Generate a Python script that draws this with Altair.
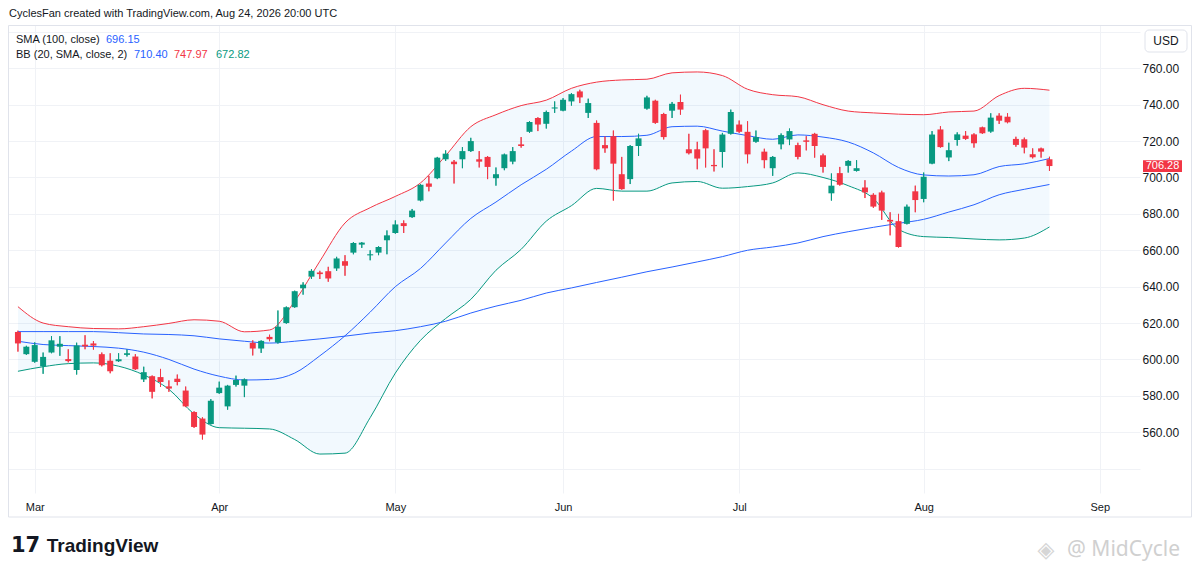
import altair as alt
import pandas as pd

# ---------------- data ----------------
opens = [615.1, 602.9, 598.7, 596.2, 603.8, 607.0, 600.2, 594.2, 608.1, 608.8,
         602.9, 599.3, 599.0, 602.5, 601.6, 589.0, 590.8, 590.3, 585.2, 589.4,
         582.9, 571.1, 567.5, 564.5, 581.5, 574.2, 586.0, 585.6, 609.1, 606.0,
         612.4, 609.3, 620.0, 628.7, 639.1, 645.5, 647.8, 648.5, 650.0, 654.0,
         658.7, 663.1, 657.3, 658.7, 665.5, 669.5, 674.9, 678.2, 687.3, 696.7,
         699.6, 710.0, 708.7, 710.0, 714.5, 710.0, 711.3, 699.6, 705.1, 708.7,
         718.2, 725.1, 732.7, 729.5, 738.2, 736.7, 741.8, 747.3, 735.5, 730.0,
         717.8, 722.7, 701.8, 699.1, 717.3, 737.8, 742.2, 734.9, 736.7, 741.5,
         715.5, 715.5, 726.0, 706.9, 714.0, 724.0, 729.1, 725.1, 719.6, 714.2,
         705.1, 718.2, 720.9, 717.8, 720.4, 724.0, 712.2, 691.3, 702.4, 706.4,
         703.6, 694.5, 690.5, 691.8, 676.7, 676.0, 674.5, 692.4, 688.2, 707.6,
         726.4, 711.0, 720.6, 723.0, 723.7, 727.6, 725.2, 734.0, 733.4, 721.2,
         721.0, 712.7, 716.0, 710.0]
highs = [615.8, 607.5, 609.4, 603.8, 612.8, 612.8, 605.6, 609.2, 613.3, 610.1,
         603.8, 603.4, 603.4, 605.6, 602.9, 596.0, 591.2, 594.8, 588.5, 591.7,
         585.1, 571.5, 568.2, 578.2, 587.8, 586.0, 591.1, 589.5, 610.5, 610.5,
         613.6, 626.9, 629.1, 637.8, 642.4, 649.6, 648.7, 650.9, 656.4, 657.3,
         664.5, 664.5, 660.0, 662.2, 670.9, 676.4, 676.4, 682.7, 696.4, 700.9,
         711.3, 714.9, 709.6, 716.7, 721.8, 714.5, 711.8, 705.5, 713.1, 716.7,
         722.2, 730.9, 733.1, 736.7, 741.8, 743.6, 746.4, 748.2, 743.3, 731.3,
         722.7, 725.8, 711.3, 717.8, 724.0, 744.9, 742.7, 735.5, 741.5, 745.5,
         724.0, 719.6, 726.7, 715.5, 724.5, 737.3, 731.3, 730.9, 725.8, 715.8,
         711.8, 724.2, 726.9, 719.1, 722.7, 724.5, 713.1, 702.2, 705.8, 709.5,
         709.5, 698.5, 691.3, 692.7, 680.9, 680.0, 685.1, 695.5, 702.7, 725.5,
         728.2, 719.1, 724.8, 725.5, 724.3, 727.9, 735.3, 735.3, 735.3, 722.4,
         721.9, 716.0, 716.4, 711.4]
lows = [604.3, 602.5, 598.2, 592.1, 603.4, 602.0, 598.4, 591.7, 605.6, 605.4,
        596.2, 592.4, 598.6, 601.6, 594.2, 587.6, 578.6, 584.9, 582.2, 585.8,
        573.8, 562.4, 556.0, 564.2, 581.1, 572.4, 585.1, 579.3, 602.2, 603.6,
        610.0, 608.7, 619.6, 628.4, 635.6, 644.2, 644.2, 642.7, 648.7, 646.0,
        657.8, 661.3, 654.5, 657.3, 657.8, 669.1, 669.5, 677.8, 686.9, 692.4,
        699.1, 709.1, 696.7, 705.1, 714.0, 705.5, 699.1, 695.5, 704.0, 707.3,
        716.4, 724.5, 725.5, 726.9, 735.5, 736.4, 739.5, 740.9, 732.7, 704.0,
        713.6, 687.3, 693.3, 696.4, 711.8, 737.3, 729.5, 720.9, 732.7, 734.5,
        712.7, 704.5, 705.5, 703.3, 705.5, 723.6, 724.5, 707.8, 719.1, 705.1,
        700.9, 715.5, 717.8, 710.0, 714.9, 710.9, 702.7, 687.3, 695.5, 702.7,
        703.3, 688.7, 683.3, 676.7, 668.2, 661.5, 674.2, 680.9, 686.4, 707.3,
        716.4, 709.0, 717.5, 720.6, 716.4, 723.9, 724.6, 729.4, 729.8, 716.9,
        713.3, 710.5, 710.9, 703.6]
closes = [608.8, 607.0, 607.9, 601.4, 610.5, 608.6, 599.1, 607.7, 607.2, 607.6,
          596.8, 593.5, 600.1, 603.4, 594.6, 593.0, 582.2, 587.6, 584.0, 587.6,
          574.2, 562.9, 558.7, 577.3, 584.5, 585.6, 588.7, 589.1, 606.0, 610.2,
          611.1, 618.0, 628.7, 637.5, 641.1, 648.7, 646.9, 644.5, 655.5, 651.5,
          664.0, 664.2, 657.8, 661.8, 668.2, 674.2, 673.3, 681.8, 696.0, 694.9,
          710.9, 713.1, 707.3, 714.5, 720.0, 708.7, 705.8, 701.8, 712.7, 714.5,
          717.3, 730.5, 729.1, 736.0, 738.5, 742.7, 745.8, 744.0, 740.9, 704.5,
          716.0, 707.6, 693.6, 717.3, 721.5, 744.0, 730.0, 722.2, 740.5, 737.3,
          713.3, 710.4, 716.0, 706.2, 723.6, 736.0, 725.1, 712.7, 722.2, 709.5,
          711.3, 723.3, 725.5, 711.3, 719.6, 717.3, 705.8, 695.5, 696.0, 709.1,
          705.1, 691.8, 684.0, 681.8, 675.8, 661.8, 684.0, 687.6, 700.4, 723.6,
          716.7, 715.0, 723.7, 721.2, 718.8, 724.3, 732.9, 731.2, 730.3, 717.9,
          716.4, 711.1, 714.2, 706.28]

band_idx = list(range(0, 124, 3))
upper = [629.0, 620.0, 618.0, 617.0, 616.8, 618.0, 619.8, 621.8, 621.0, 615.2,
         616.2, 632.0, 654.0, 675.0, 683.4, 689.6, 697.0, 712.0, 727.9, 734.5,
         739.5, 742.5, 749.0, 752.4, 753.6, 754.0, 757.5, 758.0, 756.0, 748.5,
         745.5, 744.4, 740.0, 736.5, 735.5, 734.8, 734.5, 736.0, 736.5, 745.0,
         749.0, 747.97]
middle = [610.0, 608.2, 607.6, 607.1, 606.2, 604.0, 600.0, 594.7, 590.8, 588.7,
          589.0, 592.5, 602.0, 613.0, 626.0, 640.0, 650.0, 664.0, 677.5, 686.5,
          696.0, 704.5, 714.5, 722.5, 722.5, 723.2, 727.9, 728.2, 725.5, 723.0,
          721.0, 723.4, 722.2, 719.5, 713.5, 705.5, 701.4, 700.8, 701.5, 706.0,
          707.5, 710.40]
lower = [593.5, 596.0, 597.7, 598.1, 596.3, 591.5, 583.6, 570.0, 562.5, 562.2,
         561.8, 556.0, 548.0, 548.5, 568.0, 592.5, 610.5, 622.5, 633.0, 649.0,
         660.5, 676.0, 684.5, 694.0, 692.5, 692.5, 697.0, 697.8, 694.1, 695.0,
         697.0, 702.5, 700.0, 695.5, 688.5, 671.5, 667.5, 667.0, 666.2, 665.7,
         666.7, 672.82]
sma100 = [615.3, 615.3, 615.3, 615.3, 614.7, 614.0, 613.7, 613.0, 611.3, 610.0,
          609.0, 610.0, 611.3, 612.8, 614.5, 615.8, 618.0, 621.0, 625.5, 629.3,
          632.5, 636.5, 639.3, 642.3, 645.2, 648.2, 650.8, 653.6, 656.5, 660.0,
          661.8, 664.0, 667.5, 670.2, 672.6, 674.8, 677.0, 681.0, 685.0, 690.5,
          693.5, 696.15]

month_idx = [2, 24, 45, 65, 86, 108, 129]
month_lbl = ["Mar", "Apr", "May", "Jun", "Jul", "Aug", "Sep"]
grid_levels = [540, 560, 580, 600, 620, 640, 660, 680, 700, 720, 740, 760, 780]

header = "CyclesFan created with TradingView.com, Aug 24, 2026 20:00 UTC"

# ---------------- styling ----------------
UP, DOWN, BLUE = "#089981", "#f23645", "#2962ff"
TXT = "#131722"
FONT = "Liberation Sans"
W, H = 1132, 468

candles = pd.DataFrame({"i": list(range(len(opens))), "o": opens, "h": highs,
                        "l": lows, "c": closes})
candles["dir"] = ["up" if c >= o else "down" for o, c in zip(opens, closes)]
bands = pd.DataFrame({"i": band_idx, "u": upper, "m": middle, "lo": lower, "s": sma100})

xs = alt.Scale(domain=[-0.59, 133.2], nice=False, zero=False)
ys = alt.Scale(domain=[526.6, 783.8], nice=False, zero=False)
col = alt.Color("dir:N", scale=alt.Scale(domain=["up", "down"], range=[UP, DOWN]), legend=None)

lbl_expr = "[" + ",".join(f"'{m}'" for m in month_lbl) + "][indexof([" + \
    ",".join(str(v) for v in month_idx) + "], datum.value)]"

x_axis = alt.Axis(values=month_idx, labelExpr=lbl_expr, grid=True, gridColor="#f0f2f6",
                  ticks=False, domain=False, labelPadding=8, labelFontSize=11,
                  labelColor=TXT, labelFont=FONT, title=None, labelFlush=False)
y_axis = alt.Axis(orient="right", values=grid_levels, grid=True, gridColor="#f0f2f6",
                  ticks=False, domain=False, labelAlign="left", labelPadding=2,
                  labelFontSize=12, labelColor=TXT, labelFont=FONT, title=None,
                  labelExpr="datum.value >= 560 && datum.value <= 760 ? format(datum.value, '.2f') : ''")


def X(field):
    return alt.X(field, scale=xs, axis=x_axis)


def Y(field):
    return alt.Y(field, scale=ys, axis=y_axis)


base = alt.Chart(candles)

wicks = base.mark_rule(strokeWidth=1).encode(x=X("i:Q"), y=Y("l:Q"), y2="h:Q", color=col)

bodies = base.transform_calculate(
    bt="max(datum.o, datum.c)",
    bb="max(datum.o, datum.c) - max(abs(datum.o - datum.c), 0.6)"
).mark_bar(size=6).encode(x=X("i:Q"), y=Y("bt:Q"), y2="bb:Q", color=col)

bb_area = alt.Chart(bands).mark_area(color="#2196f3", opacity=0.06, interpolate="monotone").encode(
    x=X("i:Q"), y=Y("u:Q"), y2="lo:Q")


def band_line(field, color):
    return alt.Chart(bands).mark_line(color=color, strokeWidth=1, interpolate="monotone").encode(
        x=X("i:Q"), y=Y(f"{field}:Q"))


def label(text, x, y, color=TXT, size=11, weight="normal", align="left", font=FONT):
    return alt.Chart(pd.DataFrame({"t": [text]})).mark_text(
        align=align, baseline="middle", fontSize=size, fontWeight=weight, color=color, font=font
    ).encode(x=alt.value(x), y=alt.value(y), text="t:N")


one = pd.DataFrame({"k": [0]})
frame = alt.Chart(one).mark_rect(fillOpacity=0, stroke="#e0e3eb", strokeWidth=1).encode(
    x=alt.value(0.5), x2=alt.value(1183.5), y=alt.value(0.5), y2=alt.value(492))
usd_box = alt.Chart(one).mark_rect(fill="white", stroke="#e0e3eb", strokeWidth=1, cornerRadius=4).encode(
    x=alt.value(1137), x2=alt.value(1179), y=alt.value(5), y2=alt.value(27))

last = pd.DataFrame({"c": [closes[-1]]})
price_bg = alt.Chart(last).transform_calculate(top="datum.c + 3.2", bot="datum.c - 3.2").mark_rect(
    color=DOWN).encode(x=alt.value(W + 3), x2=alt.value(W + 42), y=Y("top:Q"), y2="bot:Q")
price_txt = alt.Chart(last).mark_text(color="white", fontSize=11, align="center", baseline="middle",
                                      font=FONT).encode(
    x=alt.value(W + 22.5), y=Y("c:Q"), text=alt.Text("c:Q", format=".2f"))

layers = [
    wicks, frame, bb_area,
    band_line("u", DOWN), band_line("lo", UP), band_line("m", BLUE), band_line("s", BLUE),
    bodies, wicks, price_bg, price_txt, usd_box,
    label("USD", 1158, 16, size=12, align="center"),
    label(header, 1, -11, size=11),
    label("SMA (100, close)", 8, 14.5),
    label("696.15", 98, 14.5, color=BLUE),
    label("BB (20, SMA, close, 2)", 8, 29.7),
    label("710.40", 126, 29.7, color=BLUE),
    label("747.97", 166, 29.7, color=DOWN),
    label("672.82", 208, 29.7, color=UP),
    label("17", 3, 521, size=21, weight="bold", font="DejaVu Sans"),
    label("TradingView", 38.7, 521, size=19, weight="bold"),
    label("◈", 1038, 525, color="#d6d6d6", size=22, align="center", font="DejaVu Sans"),
    label("@ MidCycle", 1059, 525, color="#d0d0d0", size=21, font="Noto Sans"),
]

chart = alt.layer(*layers).properties(
    width=W, height=H,
    autosize=alt.AutoSizeParams(type="none"),
    padding={"left": 0, "top": 17, "right": 52, "bottom": 73},
    background="white",
).configure_view(strokeWidth=0)

chart.save("out.html", embed_options={"renderer": "svg", "actions": False})
